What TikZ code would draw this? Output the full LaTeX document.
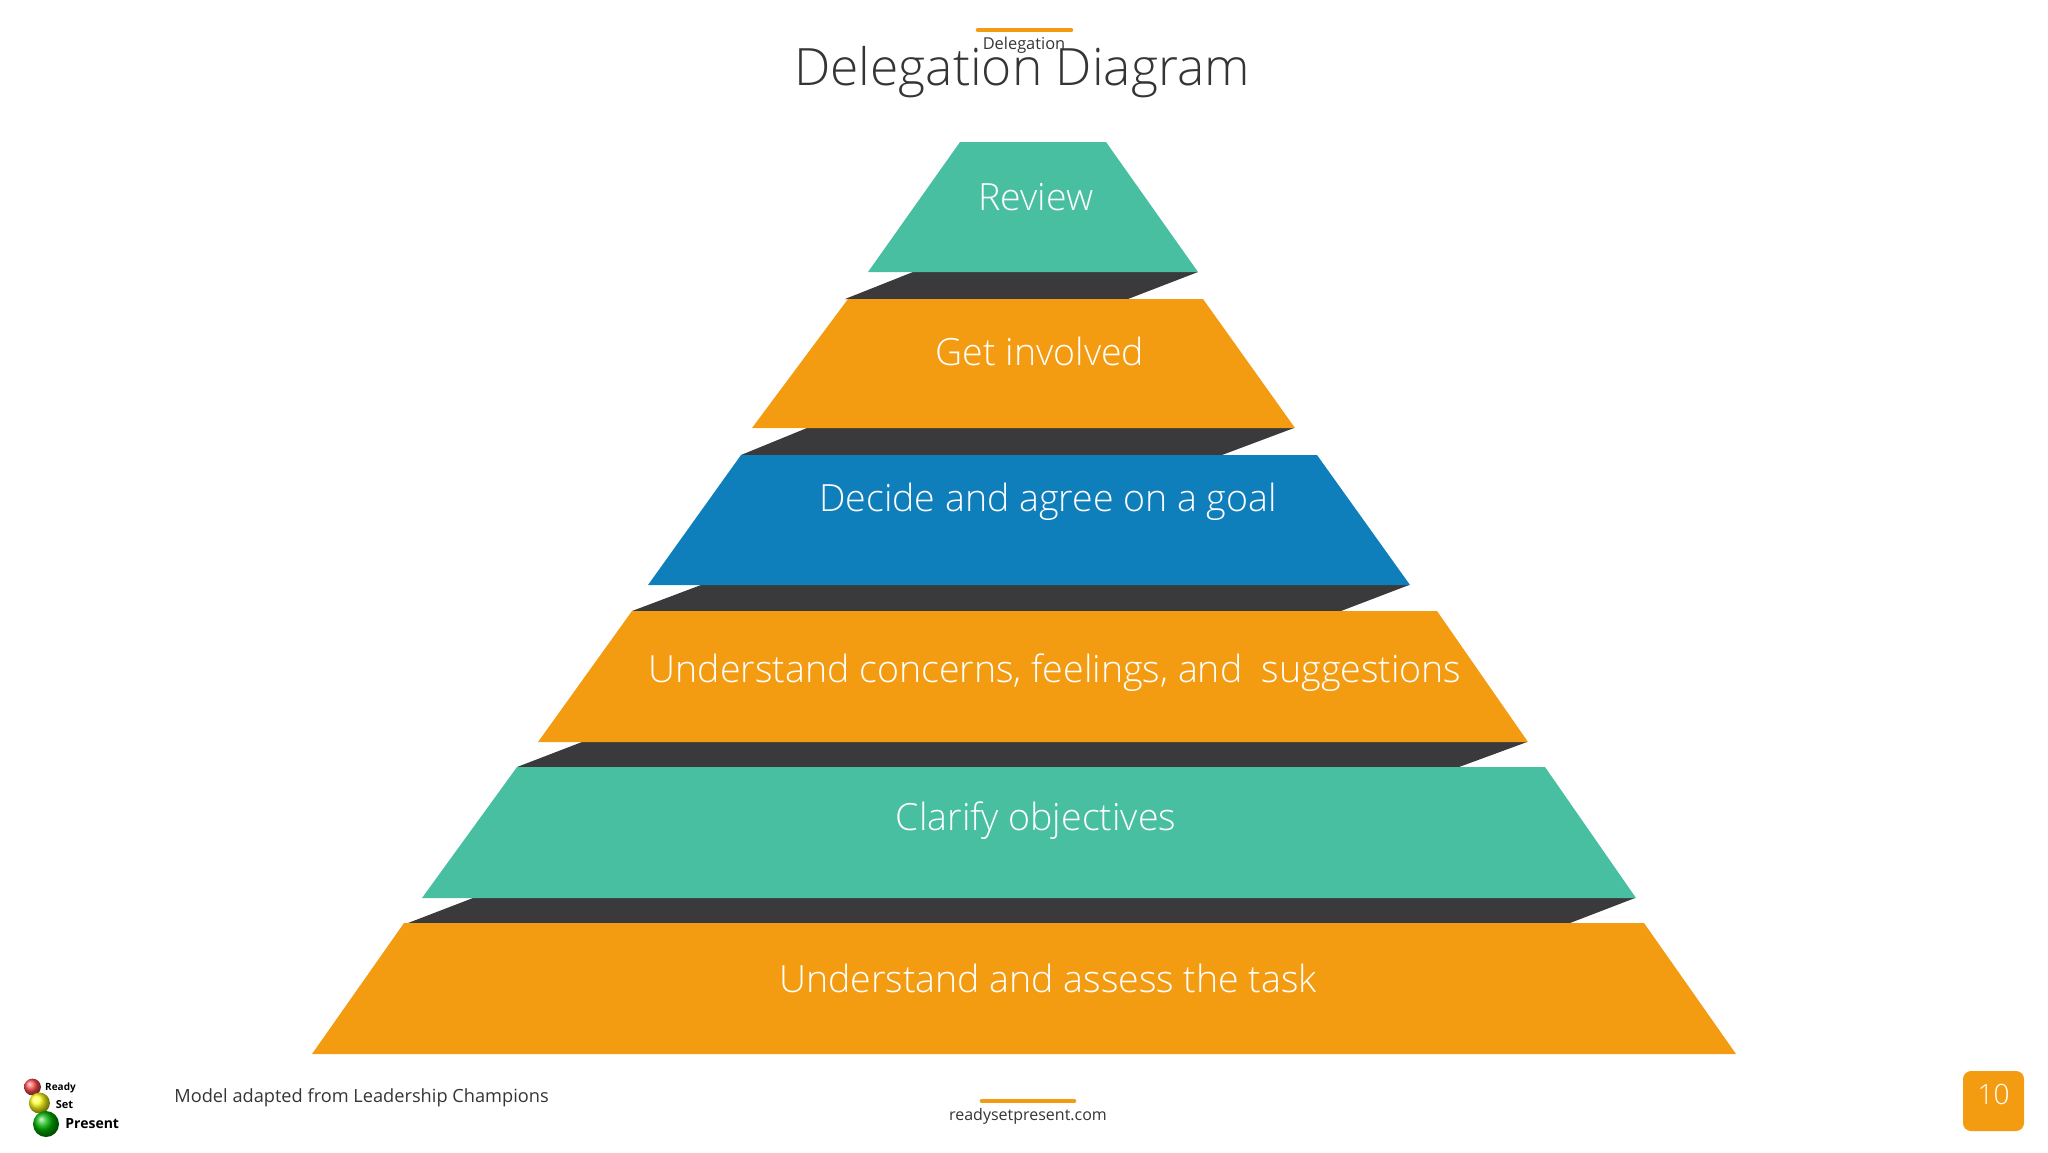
\documentclass[tikz,border=0pt]{standalone}
\usepackage{fontspec}
\setmainfont{Open Sans}
\newfontfamily\lightfont{Open Sans Light}
\usetikzlibrary{positioning}
\definecolor{tealstep}{HTML}{48BFA0}
\definecolor{orangestep}{HTML}{F39C12}
\definecolor{bluestep}{HTML}{0F7FBC}
\definecolor{shadowstep}{HTML}{3A393B}
\definecolor{inktext}{HTML}{353535}
\tikzset{
    steptext/.style={text=white, font=\lightfont\fontsize{18.75}{22}\selectfont, inner sep=0pt},
    shadowface/.style={fill=shadowstep},
    accentbar/.style={draw=orangestep, line width=2.3pt, line cap=round},
    footertext/.style={text=inktext, inner sep=0pt},
    logotext/.style={text=black, inner sep=0pt, font=\bfseries},
}

\begin{document}
\begin{tikzpicture}[x=0.5pt, y=-0.5pt]
    \useasboundingbox (0,0) rectangle (2048,1152);

    % dark faces between the steps
    \fill[shadowface] (913,272) -- (1198,272) -- (1128,299) -- (845,299) -- cycle;
    \fill[shadowface] (807,428) -- (1294,428) -- (1222,455) -- (741,455) -- cycle;
    \fill[shadowface] (701,585) -- (1409,585) -- (1341,611) -- (632,611) -- cycle;
    \fill[shadowface] (582,742) -- (1527,742) -- (1459,767) -- (517,767) -- cycle;
    \fill[shadowface] (473,898) -- (1635,898) -- (1570,923) -- (408,923) -- cycle;

    % steps, top to bottom
    \fill[tealstep] (960,142) -- (1106,142) -- (1198,272) -- (868,272) -- cycle;
    \fill[orangestep] (848,299) -- (1203,299) -- (1295,428) -- (752,428) -- cycle;
    \fill[bluestep] (741,455) -- (1317,455) -- (1410,585) -- (648,585) -- cycle;
    \fill[orangestep] (632,611) -- (1437,611) -- (1528,742) -- (538,742) -- cycle;
    \fill[tealstep] (517,767) -- (1545,767) -- (1636,898) -- (422,898) -- cycle;
    \fill[orangestep] (404,923) -- (1644,923) -- (1736,1054) -- (312,1054) -- cycle;

    \node[steptext] (review) at (1036,197) {Review};
    \node[steptext] (involved) at (1040,351) {Get involved};
    \node[steptext] (goal) at (1048,502) {Decide and agree on a goal};
    \node[steptext] (concerns) at (1055,673) {Understand concerns, feelings, and\ \ suggestions};
    \node[steptext] (objectives) at (1036,821) {Clarify objectives};
    \node[steptext] (task) at (1048,978) {Understand and assess the task};

    % header
    \node[text=inktext, font=\lightfont\fontsize{25.75}{30}\selectfont, inner sep=0pt] (title) at (1022,72) {Delegation Diagram};
    \node[text=inktext, font=\fontsize{8.2}{10}\selectfont, inner sep=0pt] (section) at (1024,45) {Delegation};
    \coordinate (topbarL) at (978,30);
    \coordinate (topbarR) at (1071,30);
    \draw[accentbar] (topbarL) -- (topbarR);

    % footer
    \node[footertext, anchor=west, font=\fontsize{9.1}{11}\selectfont] (source) at (174,1098) {Model adapted from Leadership Champions};
    \node[footertext, font=\fontsize{8}{10}\selectfont] (site) at (1028,1116) {readysetpresent.com};
    \coordinate (footbarL) at (982,1101);
    \coordinate (footbarR) at (1074,1101);
    \draw[accentbar] (footbarL) -- (footbarR);

    \node[fill=orangestep, rounded corners=4pt, minimum width=30.5pt, minimum height=30pt, inner sep=0pt] (badge) at (1993.5,1101) {};
    \node[text=white, font=\lightfont\fontsize{14}{16}\selectfont, inner sep=0pt] (pagenum) at (1993.5,1094) {10};

    % logo
    \shade[ball color=red!70!white] (32.5,1087) circle (8.4);
    \shade[ball color=yellow!90!white] (39.4,1103) circle (10.5);
    \shade[ball color=green!70!black] (46,1124) circle (13);
    \node[logotext, anchor=west, font=\bfseries\fontsize{5}{6}\selectfont] (ready) at (44.8,1088) {Ready};
    \node[logotext, anchor=west, font=\bfseries\fontsize{5.5}{6}\selectfont] (set) at (55.5,1105) {Set};
    \node[logotext, anchor=west, font=\bfseries\fontsize{7}{8}\selectfont] (present) at (65,1124) {Present};
\end{tikzpicture}
\end{document}
